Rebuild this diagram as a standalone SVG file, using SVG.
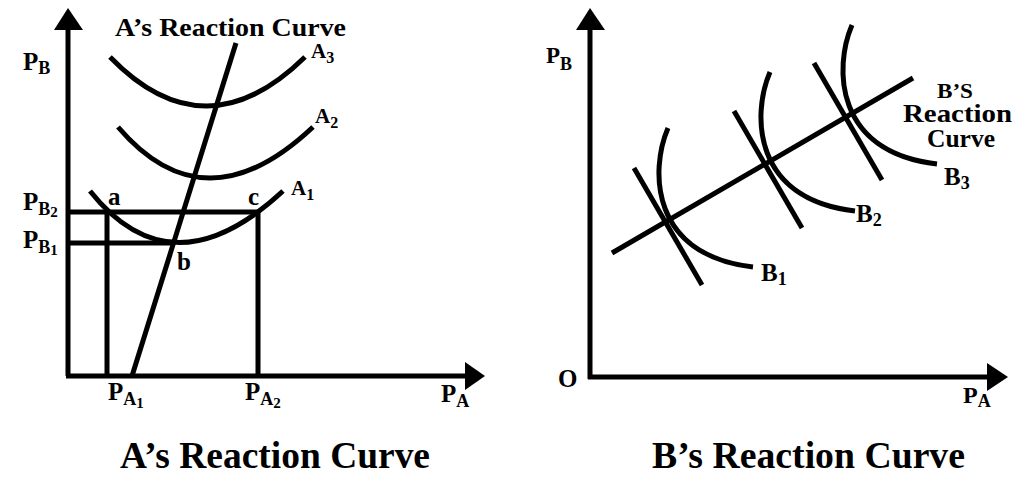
<svg xmlns="http://www.w3.org/2000/svg" width="1024" height="483" viewBox="0 0 1024 483">
<style>
.ln{fill:none;stroke:#000;stroke-width:5;stroke-linecap:butt}
.ax{fill:none;stroke:#000;stroke-width:5}
.t{font-family:"Liberation Serif","Times New Roman",serif;font-weight:bold;fill:#000}
</style>
<defs>
<path id="bcurve" class="ln" d="M668,128 C650,170 650,255 753,267"/>
<path id="tline" class="ln" d="M634,168 L702,285"/>
</defs>
<rect width="1024" height="483" fill="#fff"/>

<g id="left-axes">
<path class="ax" d="M68,376 V28 M66,376 H467"/>
<polygon points="68,8 54,30 83,30"/>
<polygon points="485,376 465,362 465,390"/>
</g>

<g id="left-curves">
<path class="ln" d="M110,57 Q205,155 305,57"/>
<path class="ln" d="M118,127 Q205,229 313,127"/>
<path class="ln" d="M90,191 Q172,294 283,191"/>
<path class="ln" d="M236,43 L132,376"/>
<path class="ln" d="M68,212 H258 M68,243 H175 M107,212 V376 M258,212 V376"/>
</g>

<g id="left-labels">
<text class="t" x="115" y="36" font-size="26" textLength="231" lengthAdjust="spacingAndGlyphs">A’s Reaction Curve</text>
<text class="t" x="23" y="70" font-size="25">P<tspan font-size="18" dy="4">B</tspan></text>
<text class="t" x="23" y="210" font-size="25">P<tspan font-size="18" dy="5">B</tspan><tspan font-size="15" dy="2">2</tspan></text>
<text class="t" x="23" y="248" font-size="25">P<tspan font-size="18" dy="5">B</tspan><tspan font-size="15" dy="2">1</tspan></text>
<text class="t" x="108" y="400" font-size="25">P<tspan font-size="18" dy="5">A</tspan><tspan font-size="15" dy="3">1</tspan></text>
<text class="t" x="245" y="400" font-size="25">P<tspan font-size="18" dy="5">A</tspan><tspan font-size="15" dy="3">2</tspan></text>
<text class="t" x="441" y="402" font-size="25">P<tspan font-size="18" dy="5">A</tspan></text>
<text class="t" x="108" y="205" font-size="25">a</text>
<text class="t" x="248" y="205" font-size="25">c</text>
<text class="t" x="177" y="270" font-size="25">b</text>
<text class="t" x="311" y="58" font-size="21">A<tspan font-size="16" dy="5">3</tspan></text>
<text class="t" x="315" y="123" font-size="21">A<tspan font-size="16" dy="5">2</tspan></text>
<text class="t" x="291" y="195" font-size="21">A<tspan font-size="16" dy="5">1</tspan></text>
<text class="t" x="120" y="468" font-size="38" textLength="310" lengthAdjust="spacingAndGlyphs">A’s Reaction Curve</text>
</g>

<g id="right-axes">
<path class="ax" d="M590,379 V28 M588,377 H989"/>
<polygon points="590,8 576,30 605,30"/>
<polygon points="1008,377 987,363 987,391"/>
</g>

<g id="right-curves">
<path class="ln" d="M612,253 L913,78"/>
<use href="#bcurve"/>
<use href="#bcurve" transform="translate(102,-56)"/>
<use href="#bcurve" transform="translate(184,-103)"/>
<use href="#tline"/>
<use href="#tline" transform="translate(100,-57)"/>
<use href="#tline" transform="translate(180,-105)"/>
</g>

<g id="right-labels">
<text class="t" x="546" y="63" font-size="23">P<tspan font-size="18" dy="7">B</tspan></text>
<text class="t" x="558" y="387" font-size="25">O</text>
<text class="t" x="963" y="403" font-size="24">P<tspan font-size="18" dy="4">A</tspan></text>
<text class="t" x="761" y="281" font-size="25">B<tspan font-size="18" dy="4">1</tspan></text>
<text class="t" x="856" y="222" font-size="25">B<tspan font-size="18" dy="4">2</tspan></text>
<text class="t" x="944" y="185" font-size="25">B<tspan font-size="18" dy="4">3</tspan></text>
<text class="t" x="937" y="98" font-size="22" textLength="36" lengthAdjust="spacingAndGlyphs">B’S</text>
<text class="t" x="903" y="122" font-size="25" textLength="109" lengthAdjust="spacingAndGlyphs">Reaction</text>
<text class="t" x="927" y="147" font-size="25" textLength="68" lengthAdjust="spacingAndGlyphs">Curve</text>
<text class="t" x="652" y="468" font-size="38" textLength="313" lengthAdjust="spacingAndGlyphs">B’s Reaction Curve</text>
</g>
</svg>
